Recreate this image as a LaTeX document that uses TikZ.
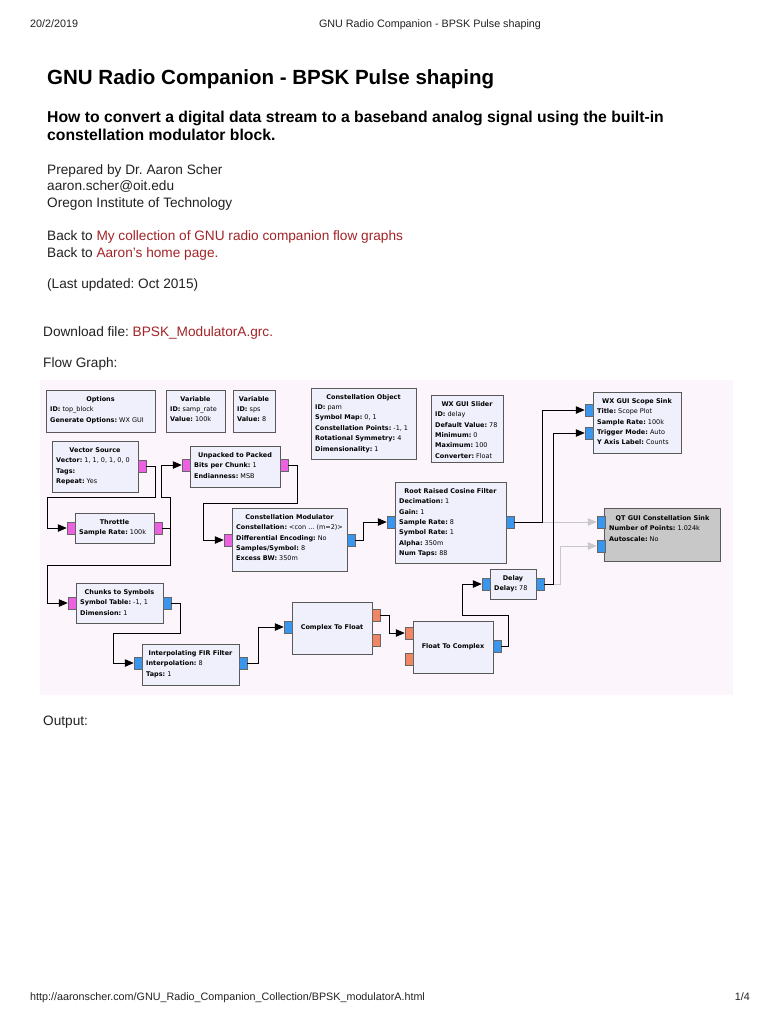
\documentclass[tikz,border=0pt]{standalone}
\usepackage{fontspec}
\setmainfont{Liberation Sans}
\newfontfamily\grcfont{DejaVu Sans}
\usetikzlibrary{arrows.meta,fit}
\frenchspacing
\definecolor{linkred}{RGB}{163,36,40}
\definecolor{txtgray}{RGB}{34,34,34}
\definecolor{fgback}{RGB}{252,245,251}
\definecolor{blkfill}{RGB}{240,240,253}
\definecolor{sinkfill}{RGB}{200,200,200}
\definecolor{portpink}{RGB}{236,96,226}
\definecolor{portblue}{RGB}{58,150,236}
\definecolor{portorange}{RGB}{240,134,100}
\definecolor{wiregray}{RGB}{200,200,200}
\tikzset{
  blk/.style={draw=black!65, fill=blkfill, line width=0.7bp, inner sep=0pt},
  ttl/.style={font=\grcfont\fontsize{6.5}{10.4}\selectfont\bfseries, inner sep=0pt},
  pars/.style={font=\grcfont\fontsize{6.5}{10.4}\selectfont, align=left, inner sep=0pt, anchor=north west},
  port/.style={draw=black!60, line width=0.5bp, minimum width=8bp, minimum height=12bp, inner sep=0pt},
  pport/.style={port, fill=portpink},
  bport/.style={port, fill=portblue},
  oport/.style={port, fill=portorange},
  wire/.style={->, line width=0.8bp},
  gwire/.style={wire, draw=wiregray},
  page/.style={anchor=base west, inner sep=0pt, text=txtgray},
  body/.style={page, font=\fontsize{13.7}{16}\selectfont},
  small/.style={page, font=\fontsize{10.8}{13}\selectfont}
}
% block: name, x1, y1, x2, y2, title, parameters
\newcommand{\grcblk}[7]{%
  \node[blk, fit={(#2,#3) (#4,#5)}] (#1) {};
  \node[ttl, anchor=base] at ({(#2+#4)/2},#3+11) {#6};
  \node[pars] at (#2+4,#3+16.7) {#7};
}
\begin{document}
\begin{tikzpicture}[>={Triangle[length=9bp,width=7.5bp]}, x=1bp, y=-1bp]
  \useasboundingbox (0,0) rectangle (768,1024);
  \fill[white] (0,0) rectangle (768,1024);
  % page text
  \node[small] (date) at (30,27) {20/2/2019};
  \node[small, anchor=base] (hdr) at (430,27) {GNU Radio Companion - BPSK Pulse shaping};
  \node[page, text=black, font=\fontsize{20.6}{24}\selectfont\bfseries] (title) at (47,84) {GNU Radio Companion - BPSK Pulse shaping};
  \node[page, text=black, font=\fontsize{15.8}{18}\selectfont\bfseries] (sub1) at (47,122) {How to convert a digital data stream to a baseband analog signal using the built-in};
  \node[page, text=black, font=\fontsize{15.8}{18}\selectfont\bfseries] (sub2) at (47,140) {constellation modulator block.};
  \node[body] (prep) at (47,174) {Prepared by Dr. Aaron Scher};
  \node[body] (mail) at (47,190.5) {aaron.scher@oit.edu};
  \node[body] (inst) at (47,207) {Oregon Institute of Technology};
  \node[body] (back1) at (47,240) {Back to \textcolor{linkred}{My collection of GNU radio companion flow graphs}};
  \node[body] (back2) at (47,257) {Back to \textcolor{linkred}{Aaron's home page.}};
  \node[body] (upd) at (47,288) {(Last updated: Oct 2015)};
  \node[body] (dl) at (43,336) {Download file: \textcolor{linkred}{BPSK\_ModulatorA.grc.}};
  \node[body] (fg) at (43,367) {Flow Graph:};
  \node[body] (outp) at (43,725) {Output:};
  \node[small] (url) at (30,1000) {http://aaronscher.com/GNU\_Radio\_Companion\_Collection/BPSK\_modulatorA.html};
  \node[small, anchor=base east] (pg) at (750,1000) {1/4};
  % flow graph
  \fill[fgback] (40,380) rectangle (733,695);
  \grcblk{opts}{46}{390}{155}{432}{Options}{\textbf{ID:} top\_block\\\textbf{Generate Options:} WX GUI}
  \grcblk{var1}{166}{390}{225}{432}{Variable}{\textbf{ID:} samp\_rate\\\textbf{Value:} 100k}
  \grcblk{var2}{233}{390}{275}{432}{Variable}{\textbf{ID:} sps\\\textbf{Value:} 8}
  \grcblk{cobj}{311}{388}{416}{459}{Constellation Object}{\textbf{ID:} pam\\\textbf{Symbol Map:} 0, 1\\\textbf{Constellation Points:} -1, 1\\\textbf{Rotational Symmetry:} 4\\\textbf{Dimensionality:} 1}
  \grcblk{slider}{431}{395}{503}{462}{WX GUI Slider}{\textbf{ID:} delay\\\textbf{Default Value:} 78\\\textbf{Minimum:} 0\\\textbf{Maximum:} 100\\\textbf{Converter:} Float}
  \grcblk{vsrc}{52}{441}{138}{492}{Vector Source}{\textbf{Vector:} 1, 1, 0, 1, 0, 0\\\textbf{Tags:}\\\textbf{Repeat:} Yes}
  \grcblk{unp}{190}{446}{280}{487}{Unpacked to Packed}{\textbf{Bits per Chunk:} 1\\\textbf{Endianness:} MSB}
  \grcblk{thr}{75}{513}{154}{543}{Throttle}{\textbf{Sample Rate:} 100k}
  \grcblk{cmod}{232}{508}{347}{571}{Constellation Modulator}{\textbf{Constellation:} \textless con ... (m=2)\textgreater\\\textbf{Differential Encoding:} No\\\textbf{Samples/Symbol:} 8\\\textbf{Excess BW:} 350m}
  \grcblk{rrc}{395}{482}{506}{563}{Root Raised Cosine Filter}{\textbf{Decimation:} 1\\\textbf{Gain:} 1\\\textbf{Sample Rate:} 8\\\textbf{Symbol Rate:} 1\\\textbf{Alpha:} 350m\\\textbf{Num Taps:} 88}
  \grcblk{scope}{593}{392}{681}{453}{WX GUI Scope Sink}{\textbf{Title:} Scope Plot\\\textbf{Sample Rate:} 100k\\\textbf{Trigger Mode:} Auto\\\textbf{Y Axis Label:} Counts}
  \grcblk{qt}{605}{509}{720}{561}{QT GUI Constellation Sink}{\textbf{Number of Points:} 1.024k\\\textbf{Autoscale:} No}
  \grcblk{c2s}{76}{583}{163}{623}{Chunks to Symbols}{\textbf{Symbol Table:} -1, 1\\\textbf{Dimension:} 1}
  \grcblk{fir}{142}{644}{239}{685}{Interpolating FIR Filter}{\textbf{Interpolation:} 8\\\textbf{Taps:} 1}
  \grcblk{delay}{490}{569}{536}{599}{Delay}{\textbf{Delay:} 78}
  \node[blk, fit={(292,602) (372,654)}] (c2f) {};
  \node[ttl] at (c2f.center) {Complex To Float};
  \node[blk, fit={(413,621) (493,673)}] (f2c) {};
  \node[ttl] at (f2c.center) {Float To Complex};
  \fill[sinkfill, draw=black!65, line width=0.7bp] (qt.north west) rectangle (qt.south east);
  \node[ttl, anchor=base] at (662.5,520) {QT GUI Constellation Sink};
  \node[pars] at (609,525.7) {\textbf{Number of Points:} 1.024k\\\textbf{Autoscale:} No};
  % ports
  \node[pport] (vs-out) at (142,466) {};
  \node[pport] (unp-in) at (186,465) {};
  \node[pport] (unp-out) at (284,465) {};
  \node[pport] (thr-in) at (71,528) {};
  \node[pport] (thr-out) at (158,528) {};
  \node[pport] (cmod-in) at (228,540) {};
  \node[bport] (cmod-out) at (351,540) {};
  \node[pport] (c2s-in) at (72,603) {};
  \node[bport] (c2s-out) at (167,603) {};
  \node[bport] (fir-in) at (138,663) {};
  \node[bport] (fir-out) at (243,663) {};
  \node[bport] (c2f-in) at (288,627) {};
  \node[oport] (c2f-re) at (376,615) {};
  \node[oport] (c2f-im) at (376,640) {};
  \node[oport] (f2c-re) at (409,633) {};
  \node[oport] (f2c-im) at (409,659) {};
  \node[bport] (f2c-out) at (497,646) {};
  \node[bport] (delay-in) at (486,584) {};
  \node[bport] (delay-out) at (540,584) {};
  \node[bport] (rrc-in) at (391,522) {};
  \node[bport] (rrc-out) at (510,522) {};
  \node[bport] (scope-in1) at (589,410) {};
  \node[bport] (scope-in2) at (589,433) {};
  \node[bport] (qt-in1) at (601,522) {};
  \node[bport] (qt-in2) at (601,546) {};
  % connections
  \draw[gwire] (rrc-out.east) -- (qt-in1.west);
  \draw[gwire] (delay-out.east) -| (560,546) -- (qt-in2.west);
  \draw[wire] (vs-out.east) -| (155,497) -| (47,528) -- (thr-in.west);
  \draw[wire] (thr-out.east) -| (170,497) -| (161,465) -- (unp-in.west);
  \draw[wire] (thr-out.east) -| (170,565) -| (47,603) -- (c2s-in.west);
  \draw[wire] (unp-out.east) -| (297,503) -| (203,540) -- (cmod-in.west);
  \draw[wire] (c2s-out.east) -| (180,633) -| (113,663) -- (fir-in.west);
  \draw[wire] (fir-out.east) -| (258,627) -- (c2f-in.west);
  \draw[wire] (cmod-out.east) -| (363,522) -- (rrc-in.west);
  \draw[wire] (c2f-re.east) -| (389,633) -- (f2c-re.west);
  \draw[wire] (f2c-out.east) -| (508,615) -| (462,584) -- (delay-in.west);
  \draw[wire] (rrc-out.east) -| (542,410) -- (scope-in1.west);
  \draw[wire] (delay-out.east) -| (553,433) -- (scope-in2.west);
\end{tikzpicture}
\end{document}
